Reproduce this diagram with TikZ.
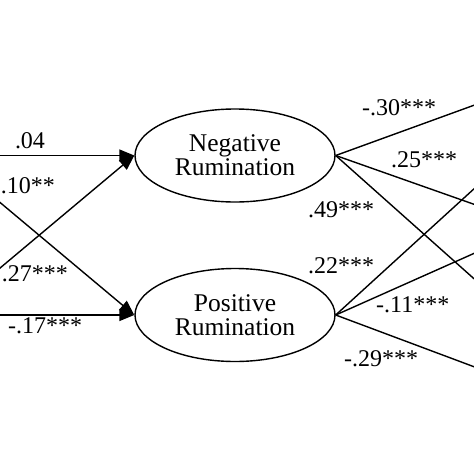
\documentclass[tikz,border=0pt]{standalone}
\usepackage{fontspec}
\setmainfont{Liberation Serif}
\usetikzlibrary{shapes.geometric,arrows.meta}
\tikzset{
  latent/.style={draw, ellipse, line width=1.4pt, minimum width=200pt, minimum height=93pt,
    inner sep=0pt, align=center, font=\fontsize{25.5}{24}\selectfont},
  path/.style={line width=1.4pt},
  arr/.style={path, -{Triangle[length=15pt,width=12pt]}},
  coef/.style={font=\fontsize{24}{24}\selectfont, inner sep=0pt}
}
\begin{document}
\begin{tikzpicture}[x=1pt,y=-1pt]
\useasboundingbox (0,0) rectangle (474,474);
\clip (0,0) rectangle (474,474);
\fill[white] (0,0) rectangle (474,474);
\node[latent] (neg) at (235,155.5) {Negative\\Rumination};
\node[latent] (pos) at (235,315) {Positive\\Rumination};
\coordinate (s1) at (-56,155.5);
\coordinate (s2) at (-56,315);
\coordinate (r1) at (476,104.5);
\coordinate (r2) at (476,205);
\coordinate (r3) at (476,280.5);
\coordinate (r4) at (476,187);
\coordinate (r5) at (476,252.5);
\coordinate (r6) at (476,367.5);
\draw[arr] (s1) -- (neg.west);
\draw[arr] (s1) -- (pos.west);
\draw[arr] (s2) -- (neg.west);
\draw[arr] (s2) -- (pos.west);
\draw[path] (neg.east) -- (r1);
\draw[path] (neg.east) -- (r2);
\draw[path] (neg.east) -- (r3);
\draw[path] (pos.east) -- (r4);
\draw[path] (pos.east) -- (r5);
\draw[path] (pos.east) -- (r6);
\node[coef, anchor=base] (l1) at (30,148) {.04};
\node[coef, anchor=base east] (l2) at (55,193) {-.10**};
\node[coef, anchor=base east] (l3) at (68,281) {.27***};
\node[coef, anchor=base west] (l4) at (8,333) {-.17***};
\node[coef, anchor=base west] (l5) at (362,115) {-.30***};
\node[coef, anchor=base west] (l6) at (391,167) {.25***};
\node[coef, anchor=base west] (l7) at (308,217) {.49***};
\node[coef, anchor=base west] (l8) at (308,273) {.22***};
\node[coef, anchor=base west] (l9) at (376,312) {-.11***};
\node[coef, anchor=base west] (l10) at (344,366) {-.29***};
\end{tikzpicture}
\end{document}
